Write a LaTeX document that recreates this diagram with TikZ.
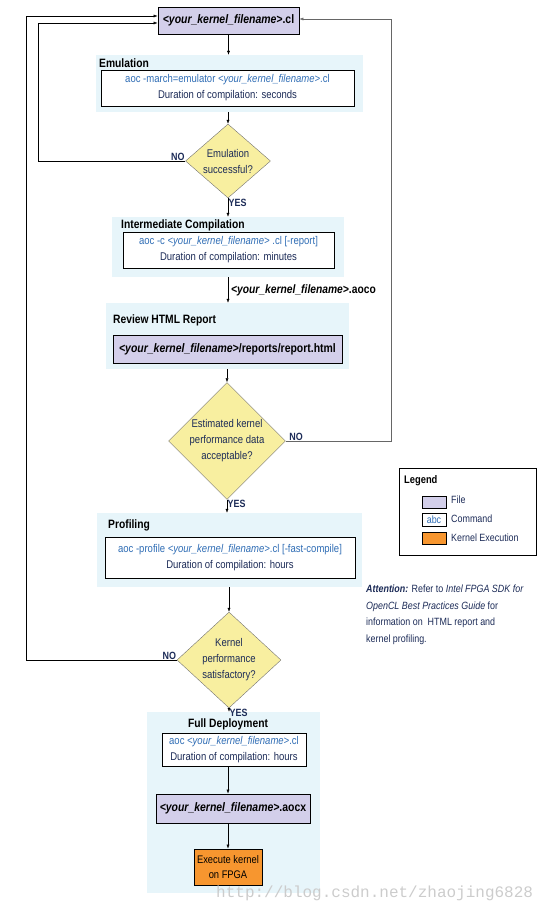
\documentclass[tikz,border=0pt]{standalone}
\usepackage{fontspec}
\setmainfont{Liberation Sans}[FakeStretch=0.85]
\newfontfamily\wmfont{Liberation Mono}
\usetikzlibrary{shapes.geometric,arrows.meta,positioning}

\definecolor{filefill}{HTML}{D3CFEA}
\definecolor{panelfill}{HTML}{E7F5FA}
\definecolor{decfill}{HTML}{F8EFA0}
\definecolor{runfill}{HTML}{F7962F}
\definecolor{cmdblue}{HTML}{2F6DB5}
\definecolor{durblue}{HTML}{1C2B57}

\newcommand{\kfile}{\textit{<your\_kernel\_filename>}}
\newcommand{\cmdtext}[1]{\textcolor{cmdblue}{#1}}
\newcommand{\fs}{\fontsize{11.2}{16}\selectfont}
\newcommand{\fb}{\fontsize{12.1}{16}\selectfont\bfseries}

\begin{document}
\begin{tikzpicture}[x=1pt, y=-1pt, >={Latex[length=4pt,width=3pt]},
    file node/.style={draw, thick, fill=filefill, inner sep=0pt, font=\fontsize{12.3}{16}\selectfont\bfseries},
    cmd node/.style={draw, semithick, fill=white, align=center, inner sep=0pt,
                     text=durblue, font=\fs},
    panel/.style={fill=panelfill, inner sep=0pt},
    paneltitle/.style={anchor=west, inner sep=0pt, font=\fb},
    decision/.style={diamond, draw=black!55, fill=decfill, align=center,
                     inner sep=0pt, text=durblue, font=\fontsize{11.2}{16}\selectfont},
    run node/.style={draw, thick, fill=runfill, align=center, inner sep=0pt,
                     font=\fontsize{11}{15}\selectfont},
    lbl/.style={inner sep=0.5pt, font=\fontsize{10.5}{12}\selectfont\bfseries, text=durblue},
    small/.style={anchor=west, inner sep=0pt, text=durblue, font=\fontsize{10.5}{12}\selectfont}]

  \useasboundingbox (0,0) rectangle (554,907);
  \coordinate (loopA) at (38,0);
  \coordinate (loopB) at (26,0);
  \coordinate (loopC) at (391,0);

  % source file
  \node[file node, minimum width=141pt, minimum height=27pt] (src) at (228.5,20.5) {\kfile.cl};

  % emulation
  \node[panel, minimum width=267pt, minimum height=57pt] (emul) at (229.5,83.5) {};
  \node[paneltitle] (emulT) at (99,63) {Emulation};
  \node[cmd node, minimum width=253pt, minimum height=36pt] (emulC) at (227.5,88)
    {\cmdtext{aoc -march=emulator \kfile.cl}\\Duration of compilation: seconds};
  \node[decision, minimum width=85pt, minimum height=58pt] (emulQ) at (228,161)
    {Emulation\\successful?};

  % intermediate compilation
  \node[panel, minimum width=232pt, minimum height=60pt] (inter) at (228,247) {};
  \node[paneltitle] (interT) at (121,225) {Intermediate Compilation};
  \node[cmd node, minimum width=211pt, minimum height=36pt] (interC) at (228.5,250)
    {\cmdtext{aoc -c \kfile{} .cl [-report]}\\Duration of compilation: minutes};

  % html report
  \node[panel, minimum width=243pt, minimum height=66pt] (review) at (227.5,336) {};
  \node[paneltitle] (reviewT) at (113,320) {Review HTML Report};
  \node[file node, minimum width=229pt, minimum height=28pt] (report) at (227.5,349)
    {\kfile/reports/report.html};
  \node[decision, minimum width=113pt, minimum height=92pt] (estQ) at (227,441)
    {Estimated kernel\\performance data\\acceptable?};

  % profiling
  \node[panel, minimum width=265pt, minimum height=74pt] (prof) at (229.5,550) {};
  \node[paneltitle] (profT) at (108,525) {Profiling};
  \node[cmd node, minimum width=250pt, minimum height=41pt] (profC) at (230,557.5)
    {\cmdtext{aoc -profile \kfile.cl [-fast-compile]}\\Duration of compilation: hours};
  \node[decision, minimum width=104pt, minimum height=75pt] (perfQ) at (229,660)
    {Kernel\\performance\\satisfactory?};

  % full deployment
  \node[panel, minimum width=173pt, minimum height=181pt] (deploy) at (233.5,802.5) {};
  \node[paneltitle, anchor=center] (deployT) at (228,724.5) {Full Deployment};
  \node[cmd node, minimum width=144pt, minimum height=33pt] (deployC) at (234,749.5)
    {\cmdtext{aoc \kfile.cl}\\Duration of compilation: hours};
  \node[file node, minimum width=154pt, minimum height=29pt] (aocx) at (233,808.5) {\kfile.aocx};
  \node[run node, minimum width=68pt, minimum height=36pt] (exec) at (228,867)
    {Execute kernel\\on FPGA};

  % main flow
  \draw[->] (src.south) -- (src.south |- emul.north);
  \draw[->] (emulQ.north |- emul.south) -- (emulQ.north);
  \draw[->] (emulQ.south) -- (emulQ.south |- inter.north)
    node[lbl, pos=0, anchor=north west] {YES};
  \draw[->] (inter.south) -- (inter.south |- review.north)
    node[midway, right=2pt, inner sep=1pt, font=\fb] {\kfile.aoco};
  \draw[->] (estQ.north |- review.south) -- (estQ.north);
  \draw[->] (estQ.south) -- (estQ.south |- prof.north)
    node[lbl, pos=0, anchor=north west] {YES};
  \draw[->] (perfQ.north |- prof.south) -- (perfQ.north);
  \draw[->] (perfQ.south) -- (perfQ.south |- deploy.north)
    node[lbl, pos=0, anchor=north west] {YES};
  \draw[->] (exec.north |- deployC.south) -- (exec.north |- aocx.north);
  \draw[->] (exec.north |- aocx.south) -- (exec.north);

  % loops back
  \draw[->] (emulQ.west) -- (emulQ.west -| loopA) |- ([yshift=-2.5pt]src.west);
  \node[lbl, anchor=south east] at (emulQ.west) {NO};
  \draw[->] (perfQ.west) -- (perfQ.west -| loopB) |- ([yshift=4.5pt]src.west);
  \node[lbl, anchor=south east] at (perfQ.west) {NO};
  \draw[->, black!60] (estQ.east) -- (estQ.east -| loopC) |- ([yshift=1.5pt]src.east);
  \node[lbl, anchor=south west] at ([xshift=3pt]estQ.east) {NO};

  % legend
  \node[draw, semithick, minimum width=137pt, minimum height=87pt] (legend) at (467.5,511.5) {};
  \node[paneltitle, font=\fontsize{11}{12}\selectfont\bfseries] (legendT) at (404,481) {Legend};
  \node[file node, minimum width=24pt, minimum height=12pt] (kfileL) at (434,502) {};
  \node[small] at (451,500) {File};
  \node[cmd node, minimum width=24pt, minimum height=13pt, font=\fontsize{10.5}{12}\selectfont]
    (kcmdL) at (434,519.5) {\cmdtext{abc}};
  \node[small] at (451,519) {Command};
  \node[run node, minimum width=24pt, minimum height=12pt] (krunL) at (434,538) {};
  \node[small] at (451,538) {Kernel Execution};

  % note
  \node[anchor=north west, align=left, inner sep=0pt, text=durblue,
        font=\fontsize{10.5}{16.5}\selectfont] (note) at (366,585)
    {\textbf{\textit{Attention:}} Refer to \textit{Intel FPGA SDK for}\\
     \textit{OpenCL Best Practices Guide} for\\
     information on~ HTML report and\\
     kernel profiling.};

  \node[anchor=west, inner sep=0pt, text=black!20, font=\wmfont\fontsize{16}{18}\selectfont]
    (mark) at (216,893) {http://blog.csdn.net/zhaojing6828};
\end{tikzpicture}
\end{document}
